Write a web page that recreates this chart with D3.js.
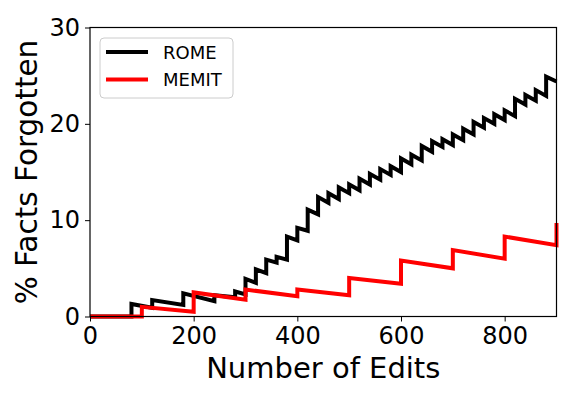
<!DOCTYPE html>
<html>
<head>
<meta charset="utf-8">
<script src="https://cdn.jsdelivr.net/npm/d3@7"></script>
<style>
  html, body { margin: 0; padding: 0; background: #fff; }
  svg { display: block; font-family: "DejaVu Sans", sans-serif; }
</style>
</head>
<body>
<svg id="chart" width="571" height="401"></svg>
<script>
// ---- data ----
const xTicks = [0, 200, 400, 600, 800];
const yTicks = [0, 10, 20, 30];
const seriesNames = ["ROME", "MEMIT"];

// ROME: positions of jumps, value right after each jump, value just before the next jump
const romeX = [0, 80, 120, 180, 240, 280, 300, 320, 340, 360, 380, 400, 420, 440, 460, 480, 500, 520, 540, 560, 580, 600, 620, 640, 660, 680, 700, 720, 740, 760, 780, 800, 820, 840, 860, 880];
const romeTop = [0, 1.3, 1.7, 2.4, 2.2, 2.6, 3.9, 4.9, 5.9, 6.2, 8.3, 9.2, 11.1, 12.4, 12.8, 13.4, 13.7, 14.3, 14.8, 15.3, 15.6, 16.4, 16.8, 17.7, 18.2, 18.4, 18.9, 19.5, 20.2, 20.6, 21.0, 21.4, 22.6, 23.0, 23.5, 24.9];
const romeBottom = [0, 0.9, 1.2, 1.6, 2.0, 2.3, 3.5, 4.5, 5.6, 5.9, 7.9, 8.9, 10.6, 11.8, 12.2, 12.8, 13.1, 13.7, 14.2, 14.7, 15.0, 15.8, 16.2, 17.1, 17.6, 17.8, 18.3, 18.9, 19.6, 20.0, 20.4, 20.8, 22.0, 22.4, 22.9, 24.4];

// MEMIT
const memitX = [0, 100, 200, 300, 400, 500, 600, 700, 800, 900];
const memitTop = [0, 1.0, 2.5, 2.8, 2.8, 4.0, 5.8, 6.9, 8.3, 9.7];
const memitBottom = [0, 0.5, 1.75, 2.1, 2.2, 3.4, 5.0, 6.0, 7.4, 9.7];

const xEnd = 900;

// ---- layout ----
const svg = d3.select("#chart");
const L = 90, R = 556.5, T = 27.5, B = 316.5;

const x = d3.scaleLinear().domain([0, 900]).range([L, R]);
const y = d3.scaleLinear().domain([0, 30]).range([B, T]);

function stepPoints(xs, tops, bottoms, end) {
  const pts = [];
  for (let i = 0; i < xs.length; i++) {
    const x0 = xs[i];
    const x1 = i + 1 < xs.length ? xs[i + 1] : end;
    pts.push([x0, tops[i]]);
    if (x1 > x0) pts.push([x1, bottoms[i]]);
  }
  return pts;
}

const line = d3.line().x(d => x(d[0])).y(d => y(d[1]));

svg.append("defs").append("clipPath").attr("id", "clip")
  .append("rect").attr("x", L).attr("y", T - 5).attr("width", R - L + 3).attr("height", B - T + 10);

const plot = svg.append("g").attr("clip-path", "url(#clip)");

const series = [
  { name: seriesNames[0], color: "#000000", pts: stepPoints(romeX, romeTop, romeBottom, xEnd) },
  { name: seriesNames[1], color: "#ff0000", pts: stepPoints(memitX, memitTop, memitBottom, xEnd) }
];

series.forEach(s => {
  plot.append("path")
    .attr("d", line(s.pts))
    .attr("fill", "none")
    .attr("stroke", s.color)
    .attr("stroke-width", 4)
    .attr("stroke-linejoin", "miter")
    .attr("stroke-linecap", "butt");
});

// ---- axes ----
const xAxis = svg.append("g").attr("transform", `translate(0,${B})`)
  .call(d3.axisBottom(x).tickValues(xTicks).tickSize(5).tickPadding(5).tickFormat(d3.format("d")));
const yAxis = svg.append("g").attr("transform", `translate(${L},0)`)
  .call(d3.axisLeft(y).tickValues(yTicks).tickSize(5).tickPadding(5).tickFormat(d3.format("d")));

[xAxis, yAxis].forEach(a => {
  a.selectAll("text").attr("font-size", 24).attr("fill", "#000").attr("font-family", "DejaVu Sans");
  a.selectAll("line").attr("stroke", "#000").attr("stroke-width", 1);
  a.select(".domain").remove();
});

// spines
svg.append("rect").attr("x", L).attr("y", T).attr("width", R - L).attr("height", B - T)
  .attr("fill", "none").attr("stroke", "#000").attr("stroke-width", 1.2);

// axis labels
svg.append("text").attr("x", (L + R) / 2).attr("y", 378)
  .attr("text-anchor", "middle").attr("font-size", 29).attr("fill", "#000")
  .text("Number of Edits");
svg.append("text").attr("transform", `translate(37,${(T + B) / 2}) rotate(-90)`)
  .attr("text-anchor", "middle").attr("font-size", 29.5).attr("fill", "#000")
  .text("% Facts Forgotten");

// legend
const lg = svg.append("g");
lg.append("rect").attr("x", 100).attr("y", 38).attr("width", 133).attr("height", 60)
  .attr("rx", 4).attr("fill", "#fff").attr("fill-opacity", 0.8)
  .attr("stroke", "#cccccc").attr("stroke-width", 1);
series.forEach((s, i) => {
  const ly = 52 + i * 27.5;
  lg.append("line").attr("x1", 106).attr("x2", 148).attr("y1", ly).attr("y2", ly)
    .attr("stroke", s.color).attr("stroke-width", 4);
  lg.append("text").attr("x", 163).attr("y", ly + 6.5).attr("font-size", 18).attr("fill", "#000")
    .text(s.name);
});
</script>
</body>
</html>
